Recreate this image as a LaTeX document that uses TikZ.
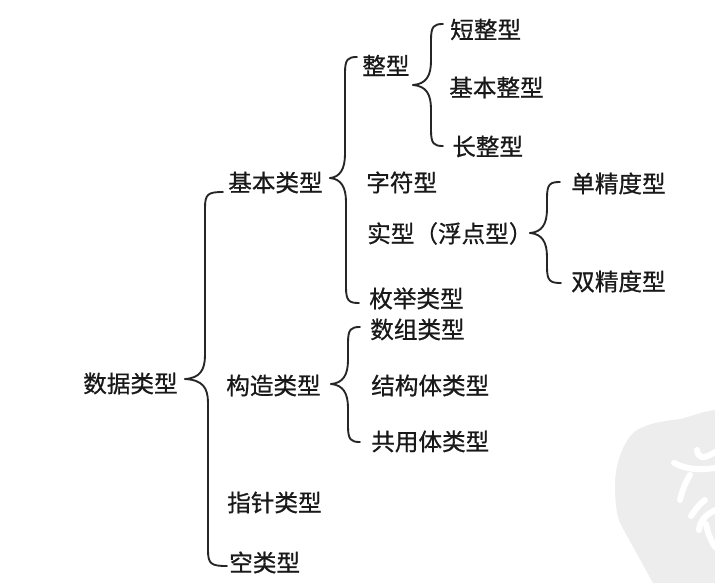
\documentclass[tikz,border=0pt]{standalone}
\usepackage{fontspec}
\newfontfamily\cjkf[FakeBold=0.7]{Noto Sans CJK SC}
\usetikzlibrary{calc}
\tikzset{
  lab/.style={inner sep=0pt,anchor=west,yshift=0.4pt,text=black!90,font=\cjkf\fontsize{17.7pt}{20pt}\selectfont},
  bracel/.style={draw=black!85,line width=1.4pt,line cap=round,line join=round},
}
% #1 tip, #2 spine top, #3 spine bottom, #4 top end, #5 bottom end (all named coordinates)
\newcommand{\mybrace}[5]{%
  \draw[bracel] (#4) .. controls ($(#2)+(3,0)$) and ($(#2)+(0,2)$) .. ($(#2)+(0,16)$)
    -- ($(#1-|#2)+(0,-24)$) .. controls ($(#1-|#2)+(0,-9)$) and ($(#1-|#2)+(-5,-1)$) .. (#1);
  \draw[bracel] (#5) .. controls ($(#3)+(3,0)$) and ($(#3)+(0,-2)$) .. ($(#3)+(0,-16)$)
    -- ($(#1-|#3)+(0,24)$) .. controls ($(#1-|#3)+(0,9)$) and ($(#1-|#3)+(-5,1)$) .. (#1);
}
\begin{document}
\begin{tikzpicture}[x=0.75pt,y=-0.75pt]
\useasboundingbox (0,0) rectangle (715,583);
\fill[white] (0,0) rectangle (715,583);
% watermark
\fill[black!7] (715,410) .. controls (700,412) and (690,417) .. (680,419)
  .. controls (665,421) and (645,423) .. (633,433)
  .. controls (622,445) and (615,465) .. (615,485)
  .. controls (615,505) and (617,515) .. (620,523)
  -- (653,583) -- (715,583) -- cycle;
\begin{scope}[white,line width=4.5pt,line cap=round]
  \draw (697,450) .. controls (698,458) and (703,460) .. (715,452);
  \draw (674,463) .. controls (688,470) and (700,470) .. (715,468);
  \draw (690,475) .. controls (684,485) and (682,492) .. (680,500);
  \draw (705,500) .. controls (698,505) and (694,512) .. (691,516);
  \draw (699,530) .. controls (700,520) and (706,515) .. (715,510);
  \draw (706,524) .. controls (708,535) and (712,542) .. (715,547);
\end{scope}
% labels
\node[lab] (root) at (83,384) {数据类型};
\node[lab] (basic) at (228,183) {基本类型};
\node[lab] (cons) at (226,386) {构造类型};
\node[lab] (ptr) at (227,503) {指针类型};
\node[lab] (void) at (229,563) {空类型};
\node[lab] (int) at (362,66) {整型};
\node[lab] (char) at (366,183) {字符型};
\node[lab] (real) at (367,234) {实型（浮点型）};
\node[lab] (enum) at (369,299) {枚举类型};
\node[lab] (arr) at (370,330) {数组类型};
\node[lab] (struct) at (371,386) {结构体类型};
\node[lab] (union) at (371,442) {共用体类型};
\node[lab] (short) at (450,30) {短整型};
\node[lab] (bint) at (449,88) {基本整型};
\node[lab] (long) at (452,147) {长整型};
\node[lab] (single) at (571,184) {单精度型};
\node[lab] (double) at (571,282) {双精度型};
% brace geometry
\coordinate (t1) at (185,379); \coordinate (s1a) at (205,192); \coordinate (s1b) at (208,566);
\coordinate (e1a) at (223,192); \coordinate (e1b) at (227,566);
\coordinate (t2) at (330,178); \coordinate (s2a) at (345,57); \coordinate (s2b) at (346,303);
\coordinate (e2a) at (357,57); \coordinate (e2b) at (359,303);
\coordinate (t3) at (331,384); \coordinate (s3a) at (348,327); \coordinate (s3b) at (348,442);
\coordinate (e3a) at (360,327); \coordinate (e3b) at (360,442);
\coordinate (t4) at (413,85); \coordinate (s4a) at (431,24); \coordinate (s4b) at (431,146);
\coordinate (e4a) at (443,24); \coordinate (e4b) at (443,146);
\coordinate (t5) at (530,233); \coordinate (s5a) at (547,182); \coordinate (s5b) at (547,283);
\coordinate (e5a) at (560,182); \coordinate (e5b) at (561,283);
\mybrace{t1}{s1a}{s1b}{e1a}{e1b}
\mybrace{t2}{s2a}{s2b}{e2a}{e2b}
\mybrace{t3}{s3a}{s3b}{e3a}{e3b}
\mybrace{t4}{s4a}{s4b}{e4a}{e4b}
\mybrace{t5}{s5a}{s5b}{e5a}{e5b}
\end{tikzpicture}
\end{document}
